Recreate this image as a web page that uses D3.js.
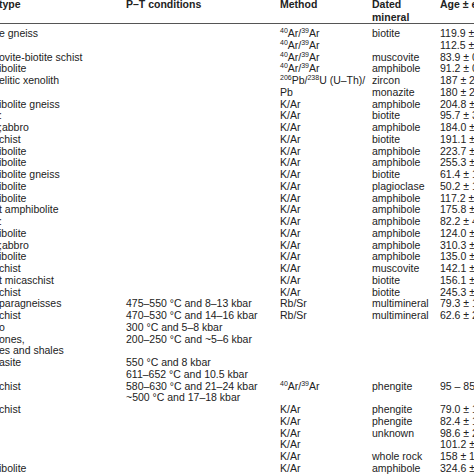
<!DOCTYPE html>
<html><head><meta charset="utf-8">
<script src="https://cdn.jsdelivr.net/npm/d3@7"></script>
<style>body{margin:0;background:#fff}svg{display:block}</style>
</head><body>
<script>
const columns = ["type","P–T conditions","Method","Dated|mineral","Age ± e"];
const lithotype = ["e gneiss","","ovite-biotite schist","ibolite","elitic xenolith","","ibolite gneiss",":",";abbro","chist","ibolite","ibolite","ibolite gneiss","ibolite","ibolite","t amphibolite",":","ibolite",";abbro","ibolite","chist","t micaschist","chist","paragneisses","chist","o","ones,","es and shales","asite","","chist","","chist","","","","","ibolite"];
const ptConditions = ["","","","","","","","","","","","","","","","","","","","","","","","475–550 °C and 8–13 kbar","470–530 °C and 14–16 kbar","300 °C and 5–8 kbar","200–250 °C and ~5–6 kbar","","550 °C and 8 kbar","611–652 °C and 10.5 kbar","580–630 °C and 21–24 kbar","~500 °C and 17–18 kbar","","","","","",""];
const methods = ["ArAr","ArAr","ArAr","ArAr","PbU","Pb","K/Ar","K/Ar","K/Ar","K/Ar","K/Ar","K/Ar","K/Ar","K/Ar","K/Ar","K/Ar","K/Ar","K/Ar","K/Ar","K/Ar","K/Ar","K/Ar","K/Ar","Rb/Sr","Rb/Sr","","","","","","ArAr","","K/Ar","K/Ar","K/Ar","K/Ar","K/Ar","K/Ar"];
const minerals = ["biotite","","muscovite","amphibole","zircon","monazite","amphibole","biotite","amphibole","biotite","amphibole","amphibole","biotite","plagioclase","amphibole","amphibole","amphibole","amphibole","amphibole","amphibole","muscovite","biotite","biotite","multimineral","multimineral","","","","","","phengite","","phengite","phengite","unknown","","whole rock","amphibole"];
const ages = ["119.9 ± 1","112.5 ± 1","83.9 ± 0","91.2 ± 0","187 ± 2","180 ± 2","204.8 ± 3","95.7 ± 3","184.0 ± 3","191.1 ± 3","223.7 ± 3","255.3 ± 3","61.4 ± 1","50.2 ± 1","117.2 ± 3","175.8 ± 3","82.2 ± 4","124.0 ± 3","310.3 ± 3","135.0 ± 3","142.1 ± 3","156.1 ± 3","245.3 ± 3","79.3 ± 1","62.6 ± 2","","","","","","95 – 85","","79.0 ± 1","82.4 ± 1","98.6 ± 2","101.2 ± 2","158 ± 1","324.6 ± 3"];

const W=474,H=474;
const svg=d3.select("body").append("svg").attr("width",W).attr("height",H);
const font="'Liberation Sans', sans-serif";
const colX = d3.scaleOrdinal().domain(d3.range(5)).range([-1,126,280,372,440]);
const rowY = d3.scaleLinear().domain([0,37]).range([37,472]);

// header
columns.forEach((c,i)=>{
  c.split("|").forEach((line,j)=>{
    svg.append("text").attr("x",colX(i)).attr("y",8+j*12.5)
      .attr("font-family",font).attr("font-weight","bold").attr("font-size",10.5)
      .attr("fill","#222").text(line);
  });
});
svg.append("line").attr("x1",0).attr("x2",W).attr("y1",23.5).attr("y2",23.5)
  .attr("stroke","#555").attr("stroke-width",1.2);

function cell(i,col,str){
  if(!str) return;
  const t=svg.append("text").attr("x",colX(col)).attr("y",rowY(i))
    .attr("font-family",font).attr("font-size",10.5).attr("fill","#222");
  if(str==="ArAr"){
    t.append("tspan").attr("font-size",7).attr("dy",-4).text("40");
    t.append("tspan").attr("dy",4).text("Ar/");
    t.append("tspan").attr("font-size",7).attr("dy",-4).text("39");
    t.append("tspan").attr("dy",4).text("Ar");
  } else if(str==="PbU"){
    t.append("tspan").attr("font-size",7).attr("dy",-4).text("206");
    t.append("tspan").attr("dy",4).text("Pb/");
    t.append("tspan").attr("font-size",7).attr("dy",-4).text("238");
    t.append("tspan").attr("dy",4).text("U (U–Th)/");
  } else t.text(str);
}
lithotype.forEach((d,i)=>cell(i,0,d));
ptConditions.forEach((d,i)=>cell(i,1,d));
methods.forEach((d,i)=>cell(i,2,d));
minerals.forEach((d,i)=>cell(i,3,d));
ages.forEach((d,i)=>cell(i,4,d));
</script>
</body></html>
